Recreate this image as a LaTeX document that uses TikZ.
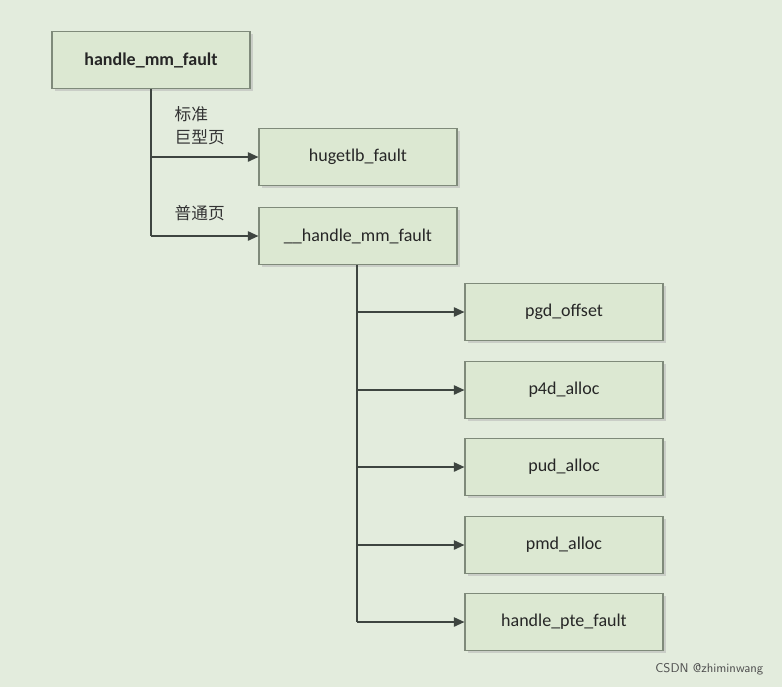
\documentclass[tikz,border=0pt]{standalone}
\usepackage{fontspec}
\setmainfont{Carlito}
\newfontfamily\cjk{Noto Sans CJK SC}
\usetikzlibrary{arrows.meta,shadows}
\definecolor{bg}{HTML}{E3ECDD}
\definecolor{boxf}{HTML}{DCE8D2}
\definecolor{boxd}{HTML}{7F8A7A}
\definecolor{ln}{HTML}{3E4540}
\begin{document}
\begin{tikzpicture}[x=0.75pt,y=-0.75pt,
  fbox/.style={draw=boxd,fill=boxf,line width=0.8pt,minimum width=148.5pt,minimum height=42.5pt,font=\fontsize{13.5}{15}\selectfont,text=black!85,drop shadow={shadow xshift=2pt,shadow yshift=-2pt,fill=black!30}},
  conn/.style={draw=ln,line width=1.3pt,-{Triangle[length=8pt,width=7pt]}},
  lab/.style={font=\cjk\fontsize{12.5}{17}\selectfont,text=black!80}]
\fill[bg] (0,0) rectangle (782,687);
\useasboundingbox (0,0) rectangle (782,687);
\node[fbox,font=\fontsize{13.5}{15}\selectfont\bfseries] (a) at (151,60) {handle\_mm\_fault};
\node[fbox] (h) at (358,157) {hugetlb\_fault};
\node[fbox] (m) at (358,236) {\_\_handle\_mm\_fault};
\node[fbox] (p1) at (564,312) {pgd\_offset};
\node[fbox] (p2) at (564,390) {p4d\_alloc};
\node[fbox] (p3) at (564,467) {pud\_alloc};
\node[fbox] (p4) at (564,545) {pmd\_alloc};
\node[fbox] (p5) at (564,622) {handle\_pte\_fault};
\coordinate (ta) at (151,157);
\coordinate (tb) at (151,236);
\draw[draw=ln,line width=1.3pt] (a.south) -- (tb);
\draw[conn] (ta) -- (h.west);
\draw[conn] (tb) -- (m.west);
\foreach \n/\y in {p1/312,p2/390,p3/467,p4/545,p5/622}{
  \coordinate (c\n) at (357,\y);
  \draw[conn] (c\n) -- (\n.west);
}
\draw[draw=ln,line width=1.3pt] (357,265) -- (cp5);
\node[lab,align=left,anchor=west] (l1) at (170,126) {标准\\巨型页};
\node[lab,anchor=west] (l2) at (170,213) {普通页};
\node[font=\sffamily\fontsize{9.5}{11}\selectfont,text=black!70,anchor=east] (w) at (768,669) {CSDN @zhiminwang};
\end{tikzpicture}
\end{document}
